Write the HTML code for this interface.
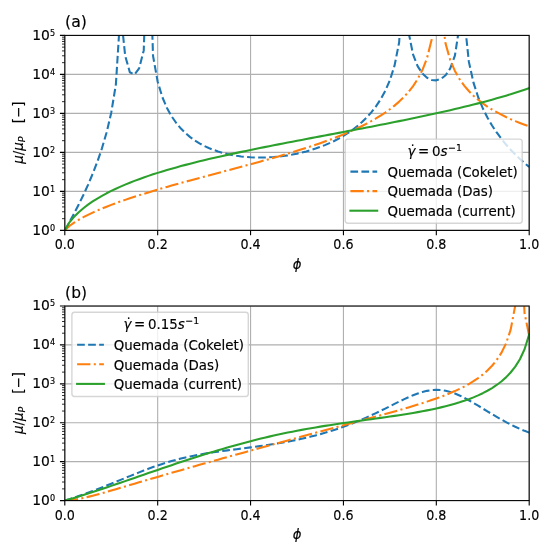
<!DOCTYPE html>
<html><head><meta charset="utf-8"><title>Quemada viscosity</title>
<style>html,body{margin:0;padding:0;background:#fff;}svg{display:block;}text{stroke:#000;stroke-width:0.15px;}</style>
</head><body>
<svg width="550" height="549" viewBox="0 0 550 549" font-family="'DejaVu Sans', sans-serif">
<rect x="0" y="0" width="550" height="549" fill="#ffffff"/>
<defs><clipPath id="clip0"><rect x="64.8" y="35.4" width="464.40000000000003" height="195.0"/></clipPath></defs>
<path d="M64.80 35.4V230.4M157.68 35.4V230.4M250.56 35.4V230.4M343.44 35.4V230.4M436.32 35.4V230.4M529.20 35.4V230.4M64.8 230.40H529.2M64.8 191.40H529.2M64.8 152.40H529.2M64.8 113.40H529.2M64.8 74.40H529.2M64.8 35.40H529.2" stroke="#b0b0b0" stroke-width="1.111" fill="none" stroke-linecap="square" clip-path="url(#clip0)"/>
<path d="M64.80 230.40 L69.44 222.11 L74.09 213.49 L78.73 204.47 L83.38 194.96 L88.02 184.83 L92.66 173.88 L97.31 161.86 L101.95 148.31 L106.60 132.47 L111.24 112.70 L115.88 84.36 L120.53 10.87 L125.17 55.74 L129.82 72.21 L134.46 74.54 L139.10 68.44 L143.75 50.40 L145.45 -1.00" fill="none" stroke="#1f77b4" stroke-width="2.083" stroke-dasharray="7.708,3.333" stroke-linejoin="round" clip-path="url(#clip0)"/>
<path d="M151.22 -1.00 L153.04 55.93 L157.68 81.72 L162.32 97.06 L166.97 107.96 L171.61 116.33 L176.26 123.03 L180.90 128.55 L185.54 133.18 L190.19 137.11 L194.83 140.47 L199.48 143.36 L204.12 145.86 L208.76 148.02 L213.41 149.89 L218.05 151.49 L222.70 152.87 L227.34 154.03 L231.98 155.01 L236.63 155.81 L241.27 156.44 L245.92 156.93 L250.56 157.27 L255.20 157.47 L259.85 157.54 L264.49 157.48 L269.14 157.30 L273.78 157.00 L278.42 156.58 L283.07 156.03 L287.71 155.36 L292.36 154.57 L297.00 153.65 L301.64 152.60 L306.29 151.41 L310.93 150.08 L315.58 148.60 L320.22 146.96 L324.86 145.15 L329.51 143.16 L334.15 140.96 L338.80 138.55 L343.44 135.88 L348.08 132.95 L352.73 129.70 L357.37 126.09 L362.02 122.05 L366.66 117.51 L371.30 112.34 L375.95 106.39 L380.59 99.39 L385.24 90.93 L389.88 80.25 L394.52 65.69 L399.17 42.23 L401.59 -1.00" fill="none" stroke="#1f77b4" stroke-width="2.083" stroke-dasharray="7.708,3.333" stroke-linejoin="round" clip-path="url(#clip0)"/>
<path d="M406.36 -1.00 L408.46 31.67 L413.10 54.71 L417.74 66.44 L422.39 73.49 L427.03 77.75 L431.68 79.96 L436.32 80.36 L440.96 78.92 L445.61 75.26 L450.25 68.40 L454.90 55.69 L459.54 25.52 L464.18 16.94 L468.83 61.63 L473.47 82.60 L478.12 97.00 L482.76 108.22 L487.40 117.50 L492.05 125.47 L496.69 132.49 L501.34 138.77 L505.98 144.47 L510.62 149.69 L515.27 154.50 L519.91 158.96 L524.56 163.12 L529.20 167.01" fill="none" stroke="#1f77b4" stroke-width="2.083" stroke-dasharray="7.708,3.333" stroke-linejoin="round" clip-path="url(#clip0)"/>
<path d="M64.80 230.40 L69.44 226.00 L74.09 222.66 L78.73 219.77 L83.38 217.19 L88.02 214.82 L92.66 212.61 L97.31 210.53 L101.95 208.56 L106.60 206.68 L111.24 204.88 L115.88 203.15 L120.53 201.48 L125.17 199.87 L129.82 198.30 L134.46 196.77 L139.10 195.27 L143.75 193.81 L148.39 192.38 L153.04 190.98 L157.68 189.60 L162.32 188.25 L166.97 186.91 L171.61 185.59 L176.26 184.28 L180.90 182.99 L185.54 181.71 L190.19 180.44 L194.83 179.18 L199.48 177.93 L204.12 176.68 L208.76 175.44 L213.41 174.20 L218.05 172.96 L222.70 171.72 L227.34 170.48 L231.98 169.24 L236.63 167.99 L241.27 166.74 L245.92 165.48 L250.56 164.22 L255.20 162.94 L259.85 161.66 L264.49 160.36 L269.14 159.05 L273.78 157.73 L278.42 156.39 L283.07 155.02 L287.71 153.64 L292.36 152.24 L297.00 150.80 L301.64 149.34 L306.29 147.85 L310.93 146.32 L315.58 144.76 L320.22 143.16 L324.86 141.51 L329.51 139.81 L334.15 138.05 L338.80 136.24 L343.44 134.35 L348.08 132.39 L352.73 130.35 L357.37 128.21 L362.02 125.97 L366.66 123.61 L371.30 121.11 L375.95 118.45 L380.59 115.60 L385.24 112.54 L389.88 109.23 L394.52 105.60 L399.17 101.59 L403.81 97.11 L408.46 92.00 L413.10 86.06 L417.74 78.94 L422.39 70.02 L427.03 58.04 L431.68 39.58 L436.08 -1.00" fill="none" stroke="#ff7f0e" stroke-width="2.083" stroke-dasharray="13.333,3.333,2.083,3.333" stroke-linejoin="round" clip-path="url(#clip0)"/>
<path d="M437.06 -1.00 L440.96 10.85 L445.61 43.80 L450.25 60.07 L454.90 70.93 L459.54 79.09 L464.18 85.61 L468.83 91.04 L473.47 95.68 L478.12 99.74 L482.76 103.34 L487.40 106.58 L492.05 109.51 L496.69 112.20 L501.34 114.67 L505.98 116.97 L510.62 119.11 L515.27 121.11 L519.91 122.99 L524.56 124.77 L529.20 126.45" fill="none" stroke="#ff7f0e" stroke-width="2.083" stroke-dasharray="13.333,3.333,2.083,3.333" stroke-linejoin="round" clip-path="url(#clip0)"/>
<path d="M64.80 230.40 L69.44 222.34 L74.09 216.77 L78.73 212.18 L83.38 208.21 L88.02 204.67 L92.66 201.47 L97.31 198.54 L101.95 195.82 L106.60 193.30 L111.24 190.93 L115.88 188.70 L120.53 186.60 L125.17 184.60 L129.82 182.70 L134.46 180.89 L139.10 179.15 L143.75 177.49 L148.39 175.89 L153.04 174.35 L157.68 172.87 L162.32 171.43 L166.97 170.04 L171.61 168.70 L176.26 167.39 L180.90 166.12 L185.54 164.88 L190.19 163.67 L194.83 162.49 L199.48 161.34 L204.12 160.21 L208.76 159.11 L213.41 158.02 L218.05 156.96 L222.70 155.91 L227.34 154.89 L231.98 153.87 L236.63 152.87 L241.27 151.89 L245.92 150.92 L250.56 149.96 L255.20 149.00 L259.85 148.06 L264.49 147.13 L269.14 146.21 L273.78 145.29 L278.42 144.38 L283.07 143.48 L287.71 142.58 L292.36 141.68 L297.00 140.79 L301.64 139.90 L306.29 139.02 L310.93 138.14 L315.58 137.26 L320.22 136.38 L324.86 135.50 L329.51 134.62 L334.15 133.74 L338.80 132.86 L343.44 131.98 L348.08 131.10 L352.73 130.22 L357.37 129.33 L362.02 128.44 L366.66 127.54 L371.30 126.65 L375.95 125.74 L380.59 124.83 L385.24 123.92 L389.88 123.00 L394.52 122.07 L399.17 121.14 L403.81 120.20 L408.46 119.24 L413.10 118.28 L417.74 117.31 L422.39 116.33 L427.03 115.34 L431.68 114.33 L436.32 113.31 L440.96 112.28 L445.61 111.23 L450.25 110.16 L454.90 109.08 L459.54 107.98 L464.18 106.86 L468.83 105.72 L473.47 104.56 L478.12 103.37 L482.76 102.16 L487.40 100.92 L492.05 99.65 L496.69 98.34 L501.34 97.01 L505.98 95.63 L510.62 94.22 L515.27 92.76 L519.91 91.26 L524.56 89.70 L529.20 88.09" fill="none" stroke="#2ca02c" stroke-width="2.083" stroke-linecap="square" stroke-linejoin="round" clip-path="url(#clip0)"/>
<rect x="64.8" y="35.4" width="464.40" height="195.00" fill="none" stroke="#000" stroke-width="1.111" stroke-linejoin="miter"/>
<path d="M64.80 230.4v4.861M157.68 230.4v4.861M250.56 230.4v4.861M343.44 230.4v4.861M436.32 230.4v4.861M529.20 230.4v4.861M64.8 230.40h-4.861M64.8 191.40h-4.861M64.8 152.40h-4.861M64.8 113.40h-4.861M64.8 74.40h-4.861M64.8 35.40h-4.861" stroke="#000" stroke-width="1.111" fill="none"/>
<path d="M64.8 218.66h-2.778M64.8 211.79h-2.778M64.8 206.92h-2.778M64.8 203.14h-2.778M64.8 200.05h-2.778M64.8 197.44h-2.778M64.8 195.18h-2.778M64.8 193.18h-2.778M64.8 179.66h-2.778M64.8 172.79h-2.778M64.8 167.92h-2.778M64.8 164.14h-2.778M64.8 161.05h-2.778M64.8 158.44h-2.778M64.8 156.18h-2.778M64.8 154.18h-2.778M64.8 140.66h-2.778M64.8 133.79h-2.778M64.8 128.92h-2.778M64.8 125.14h-2.778M64.8 122.05h-2.778M64.8 119.44h-2.778M64.8 117.18h-2.778M64.8 115.18h-2.778M64.8 101.66h-2.778M64.8 94.79h-2.778M64.8 89.92h-2.778M64.8 86.14h-2.778M64.8 83.05h-2.778M64.8 80.44h-2.778M64.8 78.18h-2.778M64.8 76.18h-2.778M64.8 62.66h-2.778M64.8 55.79h-2.778M64.8 50.92h-2.778M64.8 47.14h-2.778M64.8 44.05h-2.778M64.8 41.44h-2.778M64.8 39.18h-2.778M64.8 37.18h-2.778" stroke="#000" stroke-width="0.833" fill="none"/>
<text x="64.80" y="249.30" font-size="13.889" text-anchor="middle" textLength="20.2" lengthAdjust="spacingAndGlyphs">0.0</text>
<text x="157.68" y="249.30" font-size="13.889" text-anchor="middle" textLength="20.2" lengthAdjust="spacingAndGlyphs">0.2</text>
<text x="250.56" y="249.30" font-size="13.889" text-anchor="middle" textLength="20.2" lengthAdjust="spacingAndGlyphs">0.4</text>
<text x="343.44" y="249.30" font-size="13.889" text-anchor="middle" textLength="20.2" lengthAdjust="spacingAndGlyphs">0.6</text>
<text x="436.32" y="249.30" font-size="13.889" text-anchor="middle" textLength="20.2" lengthAdjust="spacingAndGlyphs">0.8</text>
<text x="529.20" y="249.30" font-size="13.889" text-anchor="middle" textLength="20.2" lengthAdjust="spacingAndGlyphs">1.0</text>
<text font-size="13.889" transform="translate(32.14 234.80)"><tspan x="0" y="0">1</tspan><tspan x="8.837" y="0">0</tspan><tspan x="17.806" y="-4.200" font-size="8.100">0</tspan></text>
<text font-size="13.889" transform="translate(32.14 195.80)"><tspan x="0" y="0">1</tspan><tspan x="8.837" y="0">0</tspan><tspan x="17.806" y="-4.200" font-size="8.100">1</tspan></text>
<text font-size="13.889" transform="translate(32.14 156.80)"><tspan x="0" y="0">1</tspan><tspan x="8.837" y="0">0</tspan><tspan x="17.806" y="-4.200" font-size="8.100">2</tspan></text>
<text font-size="13.889" transform="translate(32.14 117.80)"><tspan x="0" y="0">1</tspan><tspan x="8.837" y="0">0</tspan><tspan x="17.806" y="-4.200" font-size="8.100">3</tspan></text>
<text font-size="13.889" transform="translate(32.14 78.80)"><tspan x="0" y="0">1</tspan><tspan x="8.837" y="0">0</tspan><tspan x="17.806" y="-4.200" font-size="8.100">4</tspan></text>
<text font-size="13.889" transform="translate(32.14 39.80)"><tspan x="0" y="0">1</tspan><tspan x="8.837" y="0">0</tspan><tspan x="17.806" y="-4.200" font-size="8.100">5</tspan></text>
<text font-size="13.194" font-style="oblique" text-anchor="middle" x="297.00" y="268.80">&#981;</text>
<g transform="translate(23.2 163.70) rotate(-90) scale(0.965)"><text font-size="13.889"><tspan x="0" y="0" font-style="oblique">&#956;</tspan><tspan x="8.837" y="0">/</tspan><tspan x="13.516" y="0" font-style="oblique">&#956;</tspan><tspan x="22.353" y="2.278" font-style="oblique" font-size="9.722">P</tspan><tspan x="41.840" y="0">[</tspan><tspan x="47.258" y="0">&#8722;</tspan><tspan x="58.896" y="0">]</tspan></text></g>
<text x="65.10" y="27.07" font-size="16.667" text-anchor="start" textLength="21.9" lengthAdjust="spacingAndGlyphs">(a)</text>
<defs><clipPath id="clip1"><rect x="64.8" y="306.0" width="464.40000000000003" height="194.60000000000002"/></clipPath></defs>
<path d="M64.80 306.0V500.6M157.68 306.0V500.6M250.56 306.0V500.6M343.44 306.0V500.6M436.32 306.0V500.6M529.20 306.0V500.6M64.8 500.60H529.2M64.8 461.68H529.2M64.8 422.76H529.2M64.8 383.84H529.2M64.8 344.92H529.2M64.8 306.00H529.2" stroke="#b0b0b0" stroke-width="1.111" fill="none" stroke-linecap="square" clip-path="url(#clip1)"/>
<path d="M64.80 500.60 L69.44 499.13 L74.09 497.61 L78.73 496.04 L83.38 494.42 L88.02 492.74 L92.66 491.02 L97.31 489.25 L101.95 487.44 L106.60 485.59 L111.24 483.72 L115.88 481.82 L120.53 479.91 L125.17 477.99 L129.82 476.09 L134.46 474.20 L139.10 472.35 L143.75 470.54 L148.39 468.78 L153.04 467.08 L157.68 465.46 L162.32 463.92 L166.97 462.46 L171.61 461.08 L176.26 459.79 L180.90 458.60 L185.54 457.48 L190.19 456.45 L194.83 455.50 L199.48 454.62 L204.12 453.80 L208.76 453.03 L213.41 452.32 L218.05 451.64 L222.70 451.00 L227.34 450.38 L231.98 449.77 L236.63 449.18 L241.27 448.59 L245.92 447.99 L250.56 447.39 L255.20 446.77 L259.85 446.13 L264.49 445.47 L269.14 444.77 L273.78 444.05 L278.42 443.28 L283.07 442.48 L287.71 441.63 L292.36 440.73 L297.00 439.77 L301.64 438.77 L306.29 437.70 L310.93 436.58 L315.58 435.39 L320.22 434.14 L324.86 432.81 L329.51 431.41 L334.15 429.94 L338.80 428.39 L343.44 426.76 L348.08 425.05 L352.73 423.26 L357.37 421.39 L362.02 419.43 L366.66 417.40 L371.30 415.29 L375.95 413.11 L380.59 410.87 L385.24 408.58 L389.88 406.26 L394.52 403.93 L399.17 401.62 L403.81 399.37 L408.46 397.23 L413.10 395.25 L417.74 393.48 L422.39 392.00 L427.03 390.86 L431.68 390.14 L436.32 389.87 L440.96 390.07 L445.61 390.77 L450.25 391.93 L454.90 393.52 L459.54 395.48 L464.18 397.75 L468.83 400.24 L473.47 402.91 L478.12 405.68 L482.76 408.50 L487.40 411.33 L492.05 414.13 L496.69 416.87 L501.34 419.52 L505.98 422.06 L510.62 424.47 L515.27 426.75 L519.91 428.88 L524.56 430.84 L529.20 432.64" fill="none" stroke="#1f77b4" stroke-width="2.083" stroke-dasharray="7.708,3.333" stroke-linejoin="round" clip-path="url(#clip1)"/>
<path d="M64.80 500.60 L69.44 500.29 L74.09 499.69 L78.73 498.89 L83.38 497.94 L88.02 496.88 L92.66 495.72 L97.31 494.50 L101.95 493.23 L106.60 491.92 L111.24 490.59 L115.88 489.24 L120.53 487.87 L125.17 486.50 L129.82 485.12 L134.46 483.74 L139.10 482.36 L143.75 480.99 L148.39 479.62 L153.04 478.25 L157.68 476.88 L162.32 475.53 L166.97 474.17 L171.61 472.83 L176.26 471.49 L180.90 470.15 L185.54 468.82 L190.19 467.50 L194.83 466.18 L199.48 464.86 L204.12 463.55 L208.76 462.24 L213.41 460.94 L218.05 459.63 L222.70 458.34 L227.34 457.04 L231.98 455.75 L236.63 454.46 L241.27 453.17 L245.92 451.88 L250.56 450.60 L255.20 449.32 L259.85 448.04 L264.49 446.76 L269.14 445.48 L273.78 444.20 L278.42 442.93 L283.07 441.66 L287.71 440.39 L292.36 439.12 L297.00 437.85 L301.64 436.59 L306.29 435.32 L310.93 434.06 L315.58 432.80 L320.22 431.54 L324.86 430.29 L329.51 429.03 L334.15 427.78 L338.80 426.53 L343.44 425.28 L348.08 424.03 L352.73 422.78 L357.37 421.53 L362.02 420.28 L366.66 419.03 L371.30 417.78 L375.95 416.52 L380.59 415.25 L385.24 413.98 L389.88 412.69 L394.52 411.39 L399.17 410.08 L403.81 408.75 L408.46 407.39 L413.10 406.01 L417.74 404.59 L422.39 403.13 L427.03 401.63 L431.68 400.07 L436.32 398.45 L440.96 396.76 L445.61 394.97 L450.25 393.08 L454.90 391.07 L459.54 388.91 L464.18 386.58 L468.83 384.03 L473.47 381.22 L478.12 378.10 L482.76 374.57 L487.40 370.52 L492.05 365.77 L496.69 360.06 L501.34 352.94 L505.98 343.55 L510.62 329.90 L515.27 305.37 L519.91 230.22 L524.56 313.23 L529.20 335.85" fill="none" stroke="#ff7f0e" stroke-width="2.083" stroke-dasharray="13.333,3.333,2.083,3.333" stroke-linejoin="round" clip-path="url(#clip1)"/>
<path d="M64.80 500.60 L69.44 499.33 L74.09 497.97 L78.73 496.55 L83.38 495.09 L88.02 493.60 L92.66 492.09 L97.31 490.56 L101.95 489.01 L106.60 487.45 L111.24 485.88 L115.88 484.30 L120.53 482.71 L125.17 481.11 L129.82 479.51 L134.46 477.91 L139.10 476.31 L143.75 474.70 L148.39 473.10 L153.04 471.50 L157.68 469.91 L162.32 468.32 L166.97 466.75 L171.61 465.17 L176.26 463.61 L180.90 462.07 L185.54 460.53 L190.19 459.01 L194.83 457.51 L199.48 456.02 L204.12 454.55 L208.76 453.10 L213.41 451.68 L218.05 450.27 L222.70 448.89 L227.34 447.54 L231.98 446.21 L236.63 444.91 L241.27 443.63 L245.92 442.39 L250.56 441.17 L255.20 439.99 L259.85 438.84 L264.49 437.72 L269.14 436.63 L273.78 435.57 L278.42 434.54 L283.07 433.55 L287.71 432.58 L292.36 431.65 L297.00 430.75 L301.64 429.87 L306.29 429.02 L310.93 428.20 L315.58 427.41 L320.22 426.64 L324.86 425.89 L329.51 425.16 L334.15 424.45 L338.80 423.76 L343.44 423.08 L348.08 422.41 L352.73 421.75 L357.37 421.11 L362.02 420.46 L366.66 419.82 L371.30 419.18 L375.95 418.54 L380.59 417.89 L385.24 417.24 L389.88 416.57 L394.52 415.89 L399.17 415.19 L403.81 414.46 L408.46 413.72 L413.10 412.94 L417.74 412.13 L422.39 411.28 L427.03 410.38 L431.68 409.44 L436.32 408.44 L440.96 407.38 L445.61 406.25 L450.25 405.03 L454.90 403.73 L459.54 402.33 L464.18 400.81 L468.83 399.16 L473.47 397.36 L478.12 395.38 L482.76 393.20 L487.40 390.77 L492.05 388.05 L496.69 384.98 L501.34 381.46 L505.98 377.37 L510.62 372.52 L515.27 366.63 L519.91 359.20 L524.56 349.23 L529.20 334.38" fill="none" stroke="#2ca02c" stroke-width="2.083" stroke-linecap="square" stroke-linejoin="round" clip-path="url(#clip1)"/>
<rect x="64.8" y="306.0" width="464.40" height="194.60" fill="none" stroke="#000" stroke-width="1.111" stroke-linejoin="miter"/>
<path d="M64.80 500.6v4.861M157.68 500.6v4.861M250.56 500.6v4.861M343.44 500.6v4.861M436.32 500.6v4.861M529.20 500.6v4.861M64.8 500.60h-4.861M64.8 461.68h-4.861M64.8 422.76h-4.861M64.8 383.84h-4.861M64.8 344.92h-4.861M64.8 306.00h-4.861" stroke="#000" stroke-width="1.111" fill="none"/>
<path d="M64.8 488.88h-2.778M64.8 482.03h-2.778M64.8 477.17h-2.778M64.8 473.40h-2.778M64.8 470.31h-2.778M64.8 467.71h-2.778M64.8 465.45h-2.778M64.8 463.46h-2.778M64.8 449.96h-2.778M64.8 443.11h-2.778M64.8 438.25h-2.778M64.8 434.48h-2.778M64.8 431.39h-2.778M64.8 428.79h-2.778M64.8 426.53h-2.778M64.8 424.54h-2.778M64.8 411.04h-2.778M64.8 404.19h-2.778M64.8 399.33h-2.778M64.8 395.56h-2.778M64.8 392.47h-2.778M64.8 389.87h-2.778M64.8 387.61h-2.778M64.8 385.62h-2.778M64.8 372.12h-2.778M64.8 365.27h-2.778M64.8 360.41h-2.778M64.8 356.64h-2.778M64.8 353.55h-2.778M64.8 350.95h-2.778M64.8 348.69h-2.778M64.8 346.70h-2.778M64.8 333.20h-2.778M64.8 326.35h-2.778M64.8 321.49h-2.778M64.8 317.72h-2.778M64.8 314.63h-2.778M64.8 312.03h-2.778M64.8 309.77h-2.778M64.8 307.78h-2.778" stroke="#000" stroke-width="0.833" fill="none"/>
<text x="64.80" y="519.50" font-size="13.889" text-anchor="middle" textLength="20.2" lengthAdjust="spacingAndGlyphs">0.0</text>
<text x="157.68" y="519.50" font-size="13.889" text-anchor="middle" textLength="20.2" lengthAdjust="spacingAndGlyphs">0.2</text>
<text x="250.56" y="519.50" font-size="13.889" text-anchor="middle" textLength="20.2" lengthAdjust="spacingAndGlyphs">0.4</text>
<text x="343.44" y="519.50" font-size="13.889" text-anchor="middle" textLength="20.2" lengthAdjust="spacingAndGlyphs">0.6</text>
<text x="436.32" y="519.50" font-size="13.889" text-anchor="middle" textLength="20.2" lengthAdjust="spacingAndGlyphs">0.8</text>
<text x="529.20" y="519.50" font-size="13.889" text-anchor="middle" textLength="20.2" lengthAdjust="spacingAndGlyphs">1.0</text>
<text font-size="13.889" transform="translate(32.14 505.00)"><tspan x="0" y="0">1</tspan><tspan x="8.837" y="0">0</tspan><tspan x="17.806" y="-4.200" font-size="8.100">0</tspan></text>
<text font-size="13.889" transform="translate(32.14 466.08)"><tspan x="0" y="0">1</tspan><tspan x="8.837" y="0">0</tspan><tspan x="17.806" y="-4.200" font-size="8.100">1</tspan></text>
<text font-size="13.889" transform="translate(32.14 427.16)"><tspan x="0" y="0">1</tspan><tspan x="8.837" y="0">0</tspan><tspan x="17.806" y="-4.200" font-size="8.100">2</tspan></text>
<text font-size="13.889" transform="translate(32.14 388.24)"><tspan x="0" y="0">1</tspan><tspan x="8.837" y="0">0</tspan><tspan x="17.806" y="-4.200" font-size="8.100">3</tspan></text>
<text font-size="13.889" transform="translate(32.14 349.32)"><tspan x="0" y="0">1</tspan><tspan x="8.837" y="0">0</tspan><tspan x="17.806" y="-4.200" font-size="8.100">4</tspan></text>
<text font-size="13.889" transform="translate(32.14 310.40)"><tspan x="0" y="0">1</tspan><tspan x="8.837" y="0">0</tspan><tspan x="17.806" y="-4.200" font-size="8.100">5</tspan></text>
<text font-size="13.194" font-style="oblique" text-anchor="middle" x="297.00" y="539.00">&#981;</text>
<g transform="translate(23.2 434.10) rotate(-90) scale(0.965)"><text font-size="13.889"><tspan x="0" y="0" font-style="oblique">&#956;</tspan><tspan x="8.837" y="0">/</tspan><tspan x="13.516" y="0" font-style="oblique">&#956;</tspan><tspan x="22.353" y="2.278" font-style="oblique" font-size="9.722">P</tspan><tspan x="41.840" y="0">[</tspan><tspan x="47.258" y="0">&#8722;</tspan><tspan x="58.896" y="0">]</tspan></text></g>
<text x="65.10" y="297.67" font-size="16.667" text-anchor="start" textLength="21.9" lengthAdjust="spacingAndGlyphs">(b)</text>
<rect x="345.20" y="139.10" width="177.00" height="84.10" rx="2.68" ry="2.68" fill="#ffffff" fill-opacity="0.8" stroke="#cccccc" stroke-opacity="0.8" stroke-width="1.389"/>
<text font-size="13.403" transform="translate(407.5 156.00)"><tspan x="0" y="0" font-style="oblique">&#947;</tspan><tspan x="8.621" y="-1.508">&#775;</tspan><tspan x="10.543" y="0">=</tspan><tspan x="24.384" y="0">0</tspan><tspan x="32.911" y="0" font-style="oblique">s</tspan><tspan x="40.516" y="-5.131" font-size="9.382">&#8722;</tspan><tspan x="48.377" y="-5.131" font-size="9.382">1</tspan></text>
<path d="M350.40 171.60H377.20" stroke="#1f77b4" stroke-width="2.083" stroke-dasharray="7.708,3.333" fill="none"/>
<text x="387.50" y="176.92" font-size="13.403" text-anchor="start">Quemada (Cokelet)</text>
<path d="M350.40 191.10H377.20" stroke="#ff7f0e" stroke-width="2.083" stroke-dasharray="13.333,3.333,2.083,3.333" fill="none"/>
<text x="387.50" y="196.42" font-size="13.403" text-anchor="start">Quemada (Das)</text>
<path d="M350.40 210.70H377.20" stroke="#2ca02c" stroke-width="2.083" stroke-linecap="square" fill="none"/>
<text x="387.50" y="216.02" font-size="13.403" text-anchor="start">Quemada (current)</text>
<rect x="71.90" y="312.30" width="176.40" height="84.20" rx="2.68" ry="2.68" fill="#ffffff" fill-opacity="0.8" stroke="#cccccc" stroke-opacity="0.8" stroke-width="1.389"/>
<text font-size="13.403" transform="translate(123.5 329.20)"><tspan x="0" y="0" font-style="oblique">&#947;</tspan><tspan x="8.621" y="-1.508">&#775;</tspan><tspan x="10.543" y="0">=</tspan><tspan x="24.384" y="0">0</tspan><tspan x="32.911" y="0">.</tspan><tspan x="37.172" y="0">1</tspan><tspan x="45.699" y="0">5</tspan><tspan x="54.226" y="0" font-style="oblique">s</tspan><tspan x="61.831" y="-5.131" font-size="9.382">&#8722;</tspan><tspan x="69.692" y="-5.131" font-size="9.382">1</tspan></text>
<path d="M77.10 344.80H103.90" stroke="#1f77b4" stroke-width="2.083" stroke-dasharray="7.708,3.333" fill="none"/>
<text x="113.80" y="350.12" font-size="13.403" text-anchor="start">Quemada (Cokelet)</text>
<path d="M77.10 364.30H103.90" stroke="#ff7f0e" stroke-width="2.083" stroke-dasharray="13.333,3.333,2.083,3.333" fill="none"/>
<text x="113.80" y="369.62" font-size="13.403" text-anchor="start">Quemada (Das)</text>
<path d="M77.10 383.90H103.90" stroke="#2ca02c" stroke-width="2.083" stroke-linecap="square" fill="none"/>
<text x="113.80" y="389.22" font-size="13.403" text-anchor="start">Quemada (current)</text>
</svg>
</body></html>
